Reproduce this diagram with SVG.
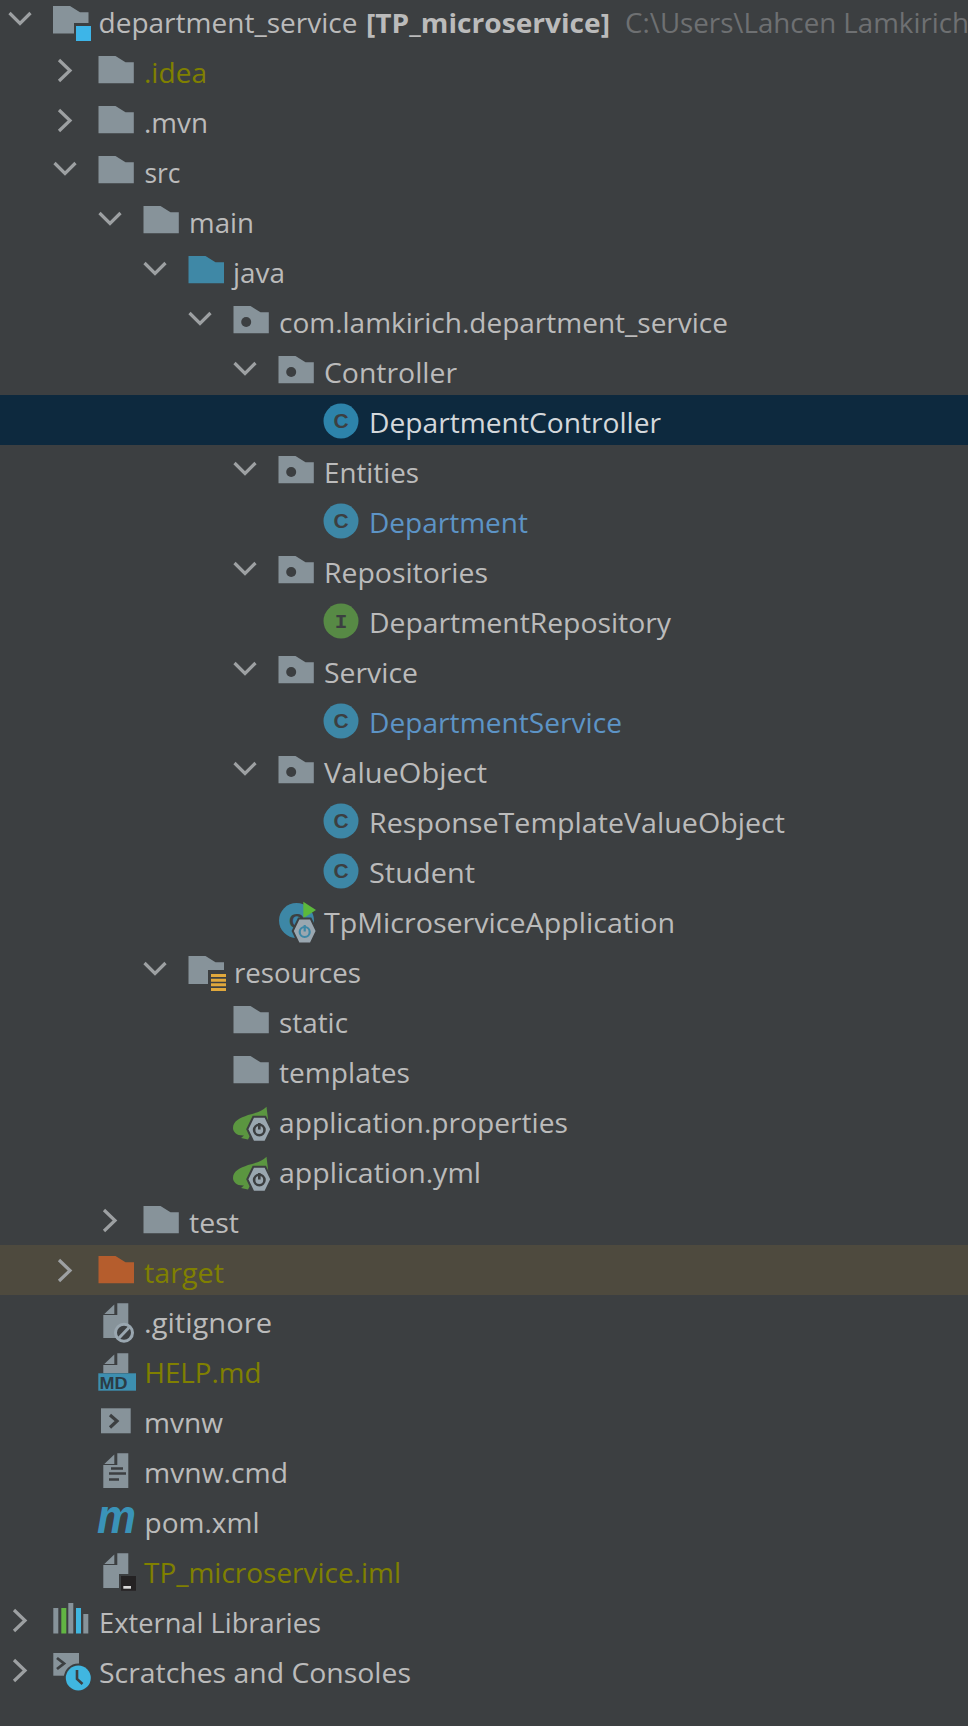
<svg xmlns="http://www.w3.org/2000/svg" width="968" height="1726" viewBox="0 0 968 1726">
<style>
text{font-family:"Open Sans","Noto Sans","Liberation Sans",sans-serif;font-size:27.5px;fill:#bbbbbb}
.o{fill:#808000}.b{fill:#5d94c6}.w{fill:#d4d8db}.g{fill:#6e7072}
.bold{font-weight:700}
.ch{fill:none;stroke:#9da0a2;stroke-width:3.2}
.f{fill:#87939a}.bg{fill:#3c3f41}.dk{fill:none;stroke:#3c3f41}
.ic{font-family:"Liberation Sans",sans-serif;font-weight:700;font-size:21px;fill:#3c3f41;text-anchor:middle}
</style>
<defs>
<path id="dn" class="ch" d="M0 0L10.5 10.5L21 0"/>
<path id="rt" class="ch" d="M0 0L11 10.5L0 21"/>
<g id="folder"><path class="f" d="M0 11H17L27 17.3H35.3V38.3H0Z"/></g>
<g id="pkg"><use href="#folder"/><circle class="bg" cx="12.7" cy="27" r="5"/></g>
<g id="hex"><path d="M-12 0L-6-12.5H6L12 0L6 12.5H-6Z" fill="#9aa7b0" stroke="#3c3f41" stroke-width="2"/></g>
<g id="spring"><path d="M33.5 11.7L35.5 28L18 39L15 44.5L8 43L11 40.5C4 41 0 37 0 33C0 26 7 23 15 20C23 18 29 16 33.5 11.7Z" fill="#5b9640"/><use href="#hex" x="26.3" y="34.3"/><circle cx="26.3" cy="35" r="5.2" class="dk" stroke-width="2.6"/><path d="M26.3 28V34.5" class="dk" stroke-width="2.6"/></g>
<g id="file"><path class="f" d="M14 8.3H25V43H0V20H14Z"/><path class="f" d="M11 9.5V19H1Z"/></g>
</defs>
<rect width="968" height="1726" fill="#3c3f41"/>
<rect x="0" y="395" width="968" height="50" fill="#0d293e"/>
<rect x="0" y="1245" width="968" height="50" fill="#4e4a3e"/>

<g id="n-root">
<use href="#dn" x="9.5" y="13"/>
<path class="f" d="M53 6H70L80 12.3H88.5V33.5H53Z"/>
<rect class="bg" x="74" y="23" width="18" height="19"/>
<rect x="76" y="26" width="15" height="15" fill="#3db5e8"/>
<text x="98.5" y="33" textLength="259" lengthAdjust="spacingAndGlyphs">department_service</text>
<text class="bold" x="366" y="33" textLength="244" lengthAdjust="spacingAndGlyphs">[TP_microservice]</text>
<text class="g" x="625" y="33" textLength="344" lengthAdjust="spacingAndGlyphs">C:\Users\Lahcen Lamkirich</text>
</g>
<g id="n-idea"><use href="#rt" x="59" y="60"/><use href="#folder" x="98.5" y="45"/><text class="o" x="144" y="83" textLength="63" lengthAdjust="spacingAndGlyphs">.idea</text></g>
<g id="n-mvn"><use href="#rt" x="59" y="110"/><use href="#folder" x="98.5" y="95"/><text x="144" y="133" textLength="64" lengthAdjust="spacingAndGlyphs">.mvn</text></g>
<g id="n-src"><use href="#dn" x="54.5" y="163"/><use href="#folder" x="98.5" y="145"/><text x="144.5" y="183" textLength="36" lengthAdjust="spacingAndGlyphs">src</text></g>
<g id="n-main"><use href="#dn" x="99.5" y="213"/><use href="#folder" x="143.5" y="195"/><text x="189" y="233" textLength="65" lengthAdjust="spacingAndGlyphs">main</text></g>
<g id="n-java"><use href="#dn" x="144.5" y="263"/><path d="M188.5 256H205.5L215.5 262.3H224V283.3H188.5Z" fill="#3f88a6"/><text x="233" y="283" textLength="52" lengthAdjust="spacingAndGlyphs">java</text></g>
<g id="n-com"><use href="#dn" x="189.5" y="313"/><use href="#pkg" x="233.5" y="295"/><text x="279" y="333" textLength="449" lengthAdjust="spacingAndGlyphs">com.lamkirich.department_service</text></g>
<g id="n-controller"><use href="#dn" x="234.5" y="363"/><use href="#pkg" x="278.5" y="345"/><text x="324" y="383" textLength="133" lengthAdjust="spacingAndGlyphs">Controller</text></g>
<g id="n-departmentcontroller"><circle cx="341" cy="421" r="17.5" fill="#2d83aa"/><text class="ic" x="341" y="428">C</text><text class="w" x="369" y="433" textLength="292" lengthAdjust="spacingAndGlyphs">DepartmentController</text></g>
<g id="n-entities"><use href="#dn" x="234.5" y="463"/><use href="#pkg" x="278.5" y="445"/><text x="324" y="483" textLength="95" lengthAdjust="spacingAndGlyphs">Entities</text></g>
<g id="n-department"><circle cx="341" cy="521" r="17.5" fill="#3d87a6"/><text class="ic" x="341" y="528">C</text><text class="b" x="369" y="533" textLength="159" lengthAdjust="spacingAndGlyphs">Department</text></g>
<g id="n-repositories"><use href="#dn" x="234.5" y="563"/><use href="#pkg" x="278.5" y="545"/><text x="324" y="583" textLength="164" lengthAdjust="spacingAndGlyphs">Repositories</text></g>
<g id="n-departmentrepository"><circle cx="341" cy="621" r="17.5" fill="#578a45"/><text x="341" y="628" text-anchor="middle" style="font-family:'Liberation Mono',monospace;font-weight:700;font-size:21px;fill:#3c3f41">I</text><text x="369" y="633" textLength="302" lengthAdjust="spacingAndGlyphs">DepartmentRepository</text></g>
<g id="n-service"><use href="#dn" x="234.5" y="663"/><use href="#pkg" x="278.5" y="645"/><text x="324" y="683" textLength="94" lengthAdjust="spacingAndGlyphs">Service</text></g>
<g id="n-departmentservice"><circle cx="341" cy="721" r="17.5" fill="#3d87a6"/><text class="ic" x="341" y="728">C</text><text class="b" x="369" y="733" textLength="253" lengthAdjust="spacingAndGlyphs">DepartmentService</text></g>
<g id="n-valueobject"><use href="#dn" x="234.5" y="763"/><use href="#pkg" x="278.5" y="745"/><text x="324" y="783" textLength="163" lengthAdjust="spacingAndGlyphs">ValueObject</text></g>
<g id="n-responsetemplate"><circle cx="341" cy="821" r="17.5" fill="#3d87a6"/><text class="ic" x="341" y="828">C</text><text x="369" y="833" textLength="416" lengthAdjust="spacingAndGlyphs">ResponseTemplateValueObject</text></g>
<g id="n-student"><circle cx="341" cy="871" r="17.5" fill="#3d87a6"/><text class="ic" x="341" y="878">C</text><text x="369" y="883" textLength="106" lengthAdjust="spacingAndGlyphs">Student</text></g>
<g id="n-app">
<circle cx="296.5" cy="920.5" r="17.5" fill="#3d87a6"/><text class="ic" x="296.5" y="927.5">C</text>
<path d="M303.3 901.7L316 910L303.3 918.3Z" fill="#5cb83c"/>
<use href="#hex" x="304.7" y="931"/>
<circle cx="304.7" cy="932" r="5" fill="none" stroke="#3d87a6" stroke-width="2.2"/><path d="M304.7 925V931.5" stroke="#3d87a6" stroke-width="2.2"/>
<text x="324" y="933" textLength="351" lengthAdjust="spacingAndGlyphs">TpMicroserviceApplication</text></g>
<g id="n-resources"><use href="#dn" x="144.5" y="963"/><path class="f" d="M188.5 956H205.5L215.5 962.3H224V970H208V984H188.5Z"/><path d="M211 974h15v3h-15zM211 978.7h15v3h-15zM211 983.3h15v3h-15zM211 988h15v3h-15z" fill="#e0a83c"/><text x="234" y="983" textLength="127" lengthAdjust="spacingAndGlyphs">resources</text></g>
<g id="n-static"><use href="#folder" x="233.5" y="995"/><text x="279" y="1033" textLength="69" lengthAdjust="spacingAndGlyphs">static</text></g>
<g id="n-templates"><use href="#folder" x="233.5" y="1045"/><text x="279" y="1083" textLength="131" lengthAdjust="spacingAndGlyphs">templates</text></g>
<g id="n-appprops"><use href="#spring" x="233" y="1095"/><text x="279" y="1133" textLength="289" lengthAdjust="spacingAndGlyphs">application.properties</text></g>
<g id="n-appyml"><use href="#spring" x="233" y="1145"/><text x="279" y="1183" textLength="202" lengthAdjust="spacingAndGlyphs">application.yml</text></g>
<g id="n-test"><use href="#rt" x="104" y="1210"/><use href="#folder" x="143.5" y="1195"/><text x="189" y="1233" textLength="50" lengthAdjust="spacingAndGlyphs">test</text></g>
<g id="n-target"><use href="#rt" x="59" y="1260"/><path d="M98.5 1256H115.5L125.5 1262.3H134V1283.3H98.5Z" fill="#b55d2d"/><text class="o" x="144" y="1283" textLength="80" lengthAdjust="spacingAndGlyphs">target</text></g>
<g id="n-gitignore"><use href="#file" x="103.3" y="1295"/><circle cx="124" cy="1332.7" r="8.5" fill="#3c3f41" stroke="#9aa7b0" stroke-width="3"/><path d="M119 1338L129 1327.5" stroke="#9aa7b0" stroke-width="3"/><text x="144" y="1333" textLength="128" lengthAdjust="spacingAndGlyphs">.gitignore</text></g>
<g id="n-help"><path class="f" d="M117.3 1353.3H128.3V1373H103.3V1365H117.3Z"/><path class="f" d="M114.3 1354.5V1364H104.3Z"/><rect x="98.3" y="1373.3" width="37.7" height="17.4" fill="#3d8fb0"/><text x="99.5" y="1388.5" textLength="28" lengthAdjust="spacingAndGlyphs" style="font-family:'Liberation Sans',sans-serif;font-weight:700;font-size:17px;fill:#2b3c46">MD</text><text class="o" x="144.5" y="1383" textLength="117" lengthAdjust="spacingAndGlyphs">HELP.md</text></g>
<g id="n-mvnw"><rect class="f" x="101" y="1408.3" width="29.7" height="25"/><path class="dk" stroke-width="3.2" d="M110 1415L117 1421L110 1427.5"/><text x="144" y="1433" textLength="79" lengthAdjust="spacingAndGlyphs">mvnw</text></g>
<g id="n-mvnwcmd"><use href="#file" x="103.3" y="1445"/><path class="dk" stroke-width="2.4" d="M111 1468.5H123M109 1473.5H126M109 1479.5H119"/><text x="144" y="1483" textLength="144" lengthAdjust="spacingAndGlyphs">mvnw.cmd</text></g>
<g id="n-pom"><text x="97" y="1533" textLength="39" lengthAdjust="spacingAndGlyphs" style="font-family:'Liberation Sans',sans-serif;font-weight:700;font-style:italic;font-size:48px;fill:#3a93b8">m</text><text x="144.5" y="1533" textLength="115" lengthAdjust="spacingAndGlyphs">pom.xml</text></g>
<g id="n-iml"><use href="#file" x="103.3" y="1545"/><rect class="bg" x="119" y="1574" width="18" height="18"/><rect x="121" y="1576" width="15" height="14.7" fill="#242223"/><rect x="123.3" y="1586" width="7.7" height="2.7" fill="#d8d8d8"/><text class="o" x="144" y="1583" textLength="257" lengthAdjust="spacingAndGlyphs">TP_microservice.iml</text></g>
<g id="n-extlib"><use href="#rt" x="14" y="1610"/>
<rect class="f" x="53.3" y="1608" width="5" height="25.5"/><rect x="61.3" y="1608" width="5" height="25.5" fill="#62b543"/><rect class="f" x="68.3" y="1603" width="5" height="30.5"/><rect x="76" y="1608" width="5" height="25.5" fill="#40b6e0"/><rect class="f" x="83.3" y="1614" width="5" height="19.5"/>
<text x="99" y="1633" textLength="222" lengthAdjust="spacingAndGlyphs">External Libraries</text></g>
<g id="n-scratches"><use href="#rt" x="14" y="1660"/>
<rect class="f" x="53.3" y="1653" width="25.7" height="22.7"/><path class="dk" stroke-width="2.8" d="M57 1658L64 1663.5L57 1669"/>
<circle cx="78.3" cy="1678" r="14.5" fill="#3c3f41"/><circle cx="78.3" cy="1678" r="12.5" fill="#40b6e0"/><path class="dk" stroke-width="2.6" d="M77 1670V1679L82.5 1684"/>
<text x="99" y="1683" textLength="312" lengthAdjust="spacingAndGlyphs">Scratches and Consoles</text></g>
</svg>
